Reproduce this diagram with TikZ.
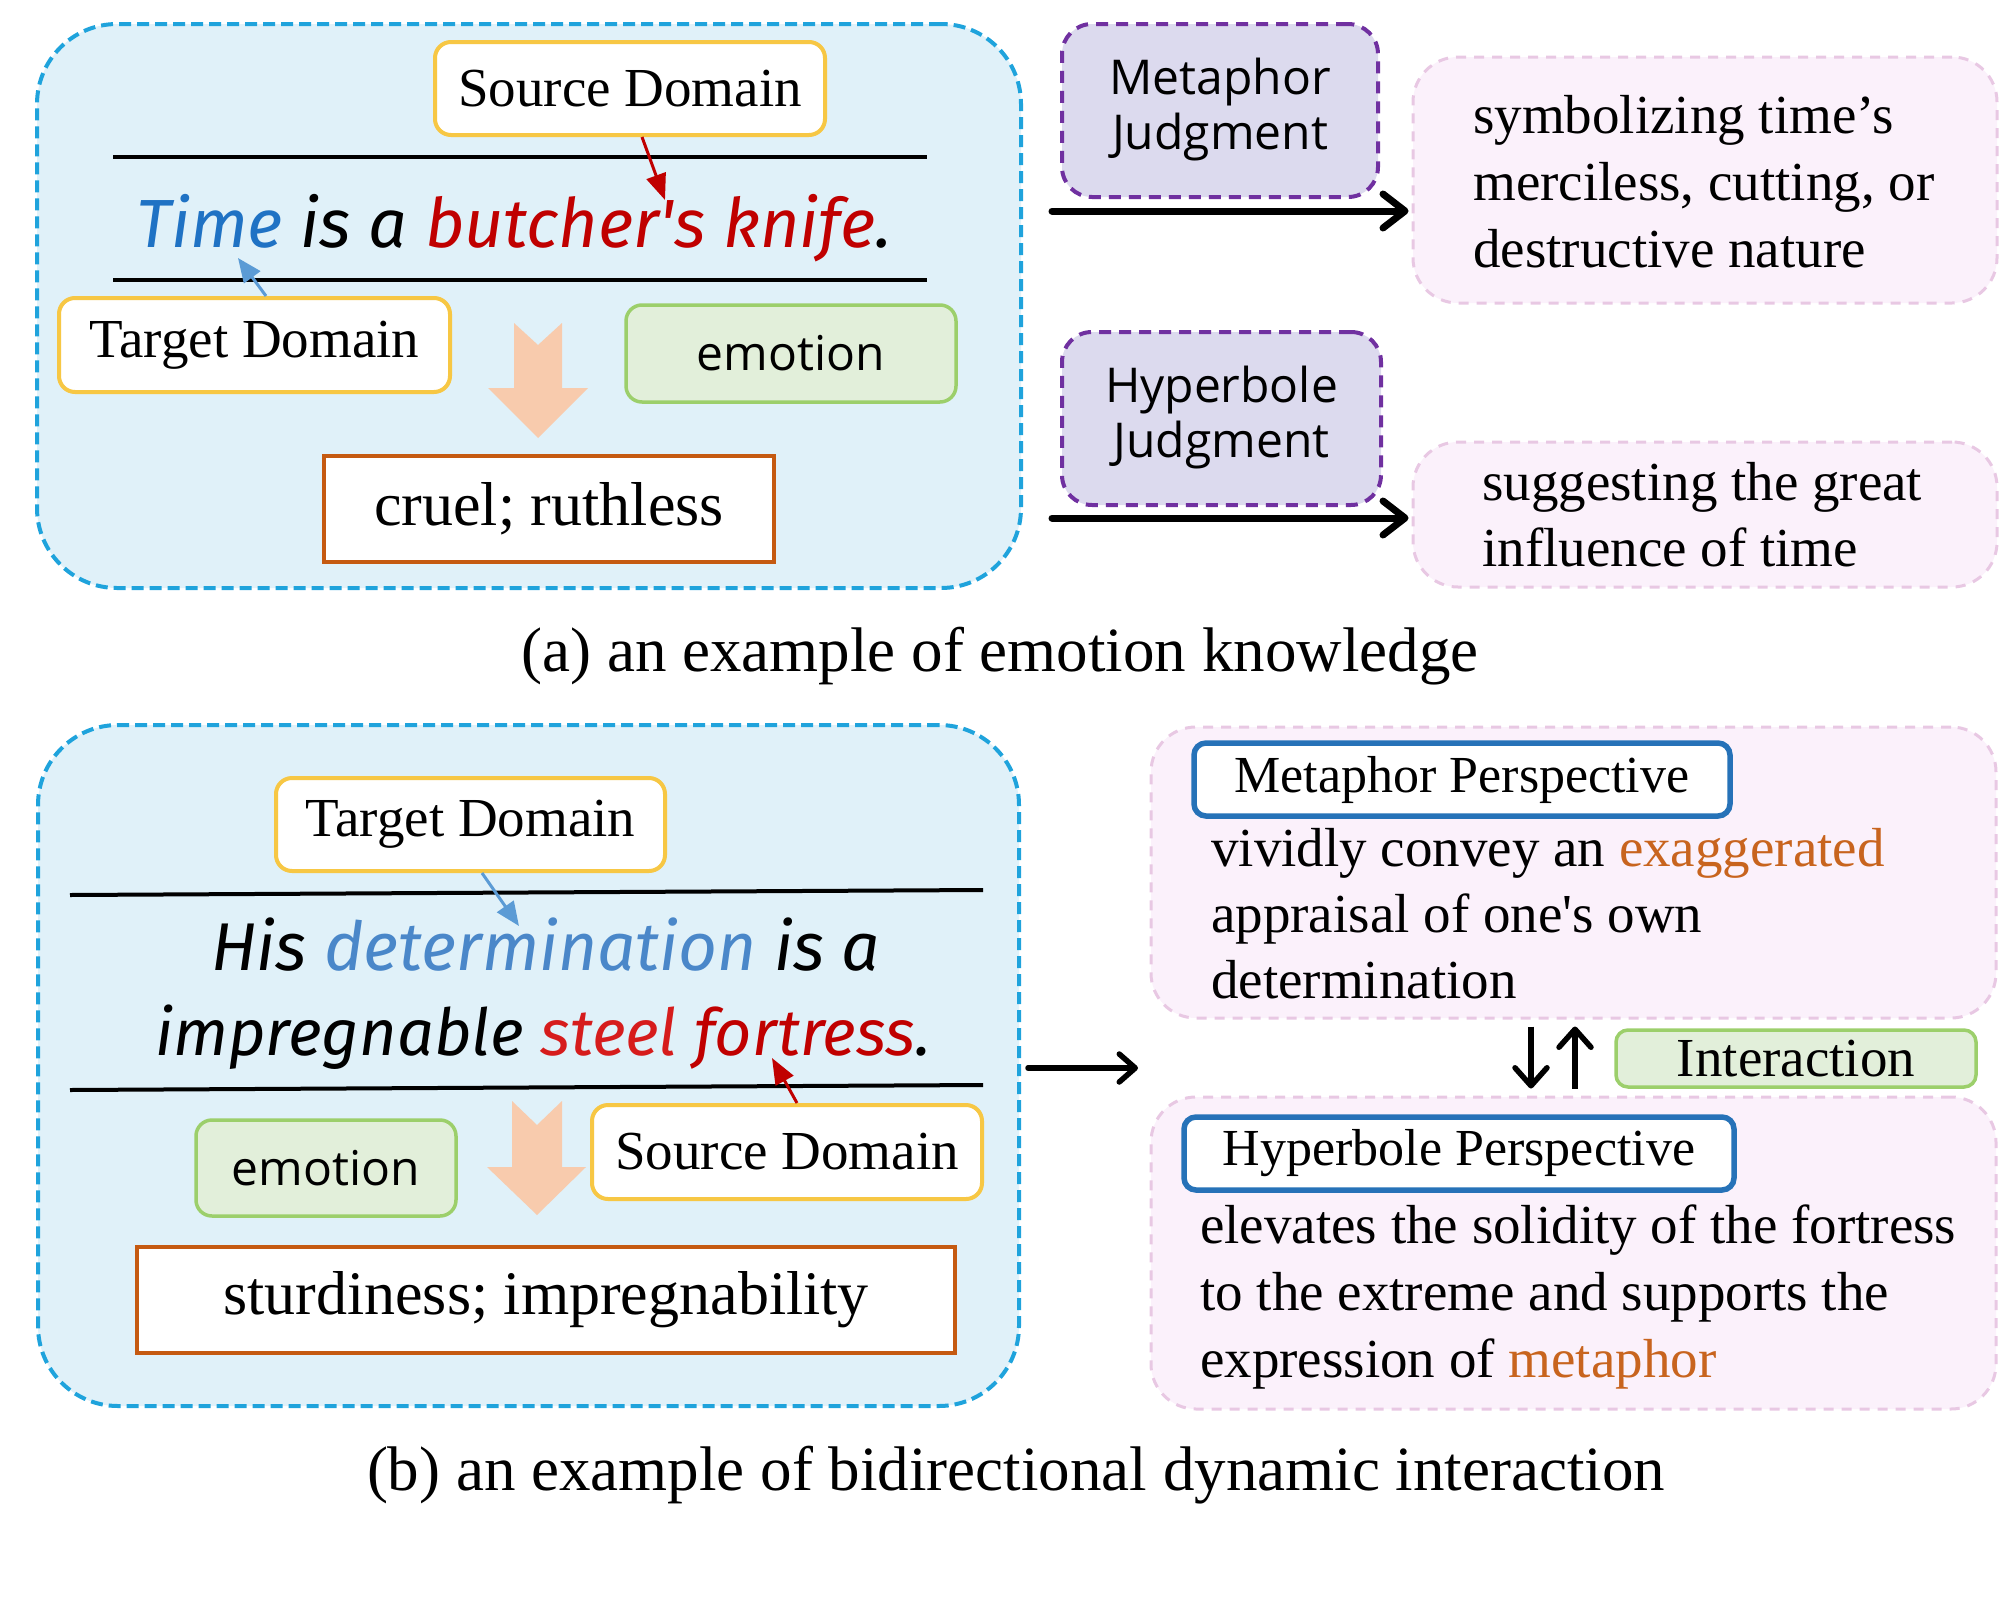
\documentclass[tikz,border=0pt]{standalone}
\usepackage{fontspec}
\usepackage{graphicx}
\setmainfont{Liberation Serif}
\newfontfamily\sansjud{Open Sans}
\newfontfamily\hand{Fira Sans}
\usetikzlibrary{arrows.meta}
\newcommand\fsz[2]{\fontsize{#1pt}{#2pt}\selectfont}
\definecolor{bbord}{HTML}{1FA3DC}
\definecolor{bfill}{HTML}{E0F1F9}
\definecolor{yb}{HTML}{F7C744}
\definecolor{gb}{HTML}{9CCF6B}
\definecolor{gf}{HTML}{E2EFDA}
\definecolor{ob}{HTML}{C55A11}
\definecolor{peachc}{HTML}{F8CBAD}
\definecolor{pj}{HTML}{7030A0}
\definecolor{pjf}{HTML}{DCDAEE}
\definecolor{pkb}{HTML}{E8C8E3}
\definecolor{pkf}{HTML}{FBF1FB}
\definecolor{bpb}{HTML}{2672B8}
\definecolor{oc}{HTML}{C8641E}
\definecolor{tblue}{HTML}{1F72C4}
\definecolor{dblue}{HTML}{4A87C9}
\definecolor{kred}{HTML}{C00000}
\definecolor{sred}{HTML}{D61C1C}
\definecolor{ablue}{HTML}{5B9BD5}
\tikzset{
  bigblue/.style={draw=bbord, fill=bfill, dash pattern=on 12pt off 6pt, line width=4pt, rounded corners=80pt, inner sep=0pt},
  ybox/.style={draw=yb, fill=white, line width=4pt, rounded corners=16pt, inner sep=0pt, font=\fsz{55}{66}},
  gbox/.style={draw=gb, fill=gf, line width=3.5pt, rounded corners=16pt, inner sep=0pt, font=\sansjud\fsz{48}{57}},
  obox/.style={draw=ob, fill=white, line width=4.5pt, inner sep=0pt, font=\fsz{62}{74}},
  pjbox/.style={draw=pj, fill=pjf, dash pattern=on 12pt off 8pt, line width=4pt, rounded corners=30pt, inner sep=0pt, font=\sansjud\fsz{48}{57}},
  pinkbox/.style={draw=pkb, fill=pkf, dash pattern=on 10pt off 8pt, line width=3pt, rounded corners=45pt, inner sep=0pt},
  bpbox/.style={draw=bpb, fill=white, line width=5.5pt, rounded corners=12pt, inner sep=0pt, font=\fsz{52}{62}},
  ibox/.style={draw=gb, fill=gf, line width=3.5pt, rounded corners=12pt, inner sep=0pt, font=\fsz{55}{66}},
  bodytext/.style={anchor=base west, inner sep=0pt, font=\fsz{55}{67}},
  captext/.style={anchor=base, inner sep=0pt, font=\fsz{63}{75}},
  handtext/.style={anchor=base west, inner sep=0pt},
  thickarr/.style={line width=7pt, line cap=round, -{Straight Barb[length=22pt,width=34pt,round]}},
  biarr/.style={line width=5.5pt, -{Straight Barb[length=18pt,width=32pt,round]}},
  smallred/.style={draw=kred, line width=3pt, -{Triangle[length=26pt,width=20pt]}},
  smallblue/.style={draw=ablue, line width=3pt, -{Triangle[length=24pt,width=20pt]}},
  ruleline/.style={line width=4pt},
}
\begin{document}
\begin{tikzpicture}[x=1pt,y=-1pt]
\useasboundingbox (0,0) rectangle (2016,1598);
% ---------------- (a) ----------------
\node[bigblue, minimum width=984pt, minimum height=564pt] (boxA) at (529,306) {};
\node[ybox, minimum width=390pt, minimum height=93pt] (srcA) at (630,88.5) {Source Domain};
\draw[ruleline] (113,157) -- (927,157);
\draw[ruleline] (113,280) -- (927,280);
\node[handtext] (sentA) at (136,247) {\resizebox{756pt}{!}{\hand\itshape\fsz{60}{70}\textcolor{tblue}{Time} is a \textcolor{kred}{butcher\textquotesingle s knife}.}};
\coordinate (knifeTip) at (665,200);
\coordinate (timeTip) at (238,258);
\node[ybox, minimum width=391pt, minimum height=94pt] (tgtA) at (254.5,345) {Target Domain};
\node[gbox, minimum width=330pt, minimum height=97pt] (emoA) at (791,353.5) {emotion};
\fill[peachc] (514,323) -- (538,345) -- (562,323) -- (562,388) -- (588,388) -- (538,438) -- (488,388) -- (514,388) -- cycle;
\node[obox, minimum width=450pt, minimum height=106pt] (cruel) at (549,509) {cruel; ruthless};
\draw[smallred] ([xshift=12pt]srcA.south) -- (knifeTip);
\draw[smallblue] ([xshift=11.5pt]tgtA.north) -- (timeTip);

\node[pjbox, minimum width=316pt, minimum height=173pt] (mj) at (1220,110.5) {\raisebox{-5pt}{\begin{tabular}{@{}c@{}}Metaphor\\[-2pt]Judgment\end{tabular}}};
\node[pjbox, minimum width=319pt, minimum height=173pt] (hj) at (1221.5,418.5) {\raisebox{-5pt}{\begin{tabular}{@{}c@{}}Hyperbole\\[-2pt]Judgment\end{tabular}}};
\node[pinkbox, minimum width=584pt, minimum height=246pt] (t1) at (1705,180) {};
\node[pinkbox, minimum width=584pt, minimum height=145pt] (t2) at (1705,514.5) {};
\node[bodytext] (t1text) at (1473,133) {\begin{tabular}[t]{@{}l@{}}symbolizing time’s\\merciless, cutting, or\\destructive nature\end{tabular}};
\node[bodytext] (t2text) at (1482,500) {\fsz{55}{66}\begin{tabular}[t]{@{}l@{}}suggesting the great\\influence of time\end{tabular}};
\coordinate (a1s) at (1052,211);
\coordinate (a2s) at (1052,518);
\draw[thickarr, shorten >=3pt] (a1s) -- (a1s -| t1.west);
\draw[thickarr, shorten >=3pt] (a2s) -- (a2s -| t2.west);

\node[captext] (capA) at (1000,671) {(a) an example of emotion knowledge};

% ---------------- (b) ----------------
\node[bigblue, minimum width=981pt, minimum height=681pt] (boxB) at (528.5,1065.5) {};
\node[ybox, minimum width=389pt, minimum height=93pt] (tgtB) at (470.5,824.5) {Target Domain};
\draw[ruleline] (70,895) -- (983,890);
\draw[ruleline] (70,1090) -- (983,1085);
\node[handtext] (sentB1) at (211,970) {\resizebox{669pt}{!}{\hand\itshape\fsz{60}{70}His \textcolor{dblue}{determination} is a}};
\node[handtext] (sentB2) at (155,1055) {\resizebox{776pt}{!}{\hand\itshape\fsz{60}{70}impregnable \textcolor{sred}{steel} \textcolor{kred}{fortress}.}};
\coordinate (detTip) at (519,926);
\coordinate (fortTip) at (772,1058);
\node[gbox, minimum width=260pt, minimum height=96pt] (emoB) at (326,1168) {emotion};
\node[ybox, minimum width=390pt, minimum height=94pt] (srcB) at (787,1152) {Source Domain};
\fill[peachc] (512,1101) -- (537,1125) -- (562,1101) -- (562,1167) -- (586,1167) -- (537,1215) -- (487,1167) -- (512,1167) -- cycle;
\node[obox, minimum width=818pt, minimum height=106pt] (sturdy) at (546,1300) {sturdiness; impregnability};
\draw[smallblue] ([xshift=11.5pt]tgtB.south) -- (detTip);
\draw[smallred] ([xshift=10pt]srcB.north) -- (fortTip);

\coordinate (midS) at (1028,1068);
\coordinate (midE) at (1138,1068);
\draw[line width=5.5pt, line cap=round, -{Straight Barb[length=16pt,width=28pt,round]}] (midS) -- (midE);

\node[pinkbox, minimum width=845pt, minimum height=291pt] (pinkU) at (1573.5,872.5) {};
\node[pinkbox, minimum width=845pt, minimum height=312pt] (pinkL) at (1573.5,1253) {};
\node[bpbox, minimum width=536pt, minimum height=73pt] (mp) at (1462,779.5) {Metaphor Perspective};
\node[bpbox, minimum width=550pt, minimum height=73pt] (hp) at (1459,1153.5) {Hyperbole Perspective};
\node[bodytext] (mptext) at (1211,866) {\fsz{55}{66}\begin{tabular}[t]{@{}l@{}}vividly convey an \textcolor{oc}{exaggerated}\\appraisal of one\textquotesingle s own\\determination\end{tabular}};
\node[bodytext] (hptext) at (1200,1243) {\begin{tabular}[t]{@{}l@{}}elevates the solidity of the fortress\\to the extreme and supports the\\expression of \textcolor{oc}{metaphor}\end{tabular}};
\node[ibox, minimum width=360pt, minimum height=57pt] (inter) at (1796,1058.5) {Interaction};
\draw[biarr, shorten <=7pt, shorten >=7pt] ([xshift=-42.5pt]pinkU.south) -- ([xshift=-42.5pt]pinkL.north);
\draw[biarr, shorten <=7pt, shorten >=7pt] ([xshift=1.5pt]pinkL.north) -- ([xshift=1.5pt]pinkU.south);

\node[captext] (capB) at (1016,1490) {(b) an example of bidirectional dynamic interaction};
\end{tikzpicture}
\end{document}
